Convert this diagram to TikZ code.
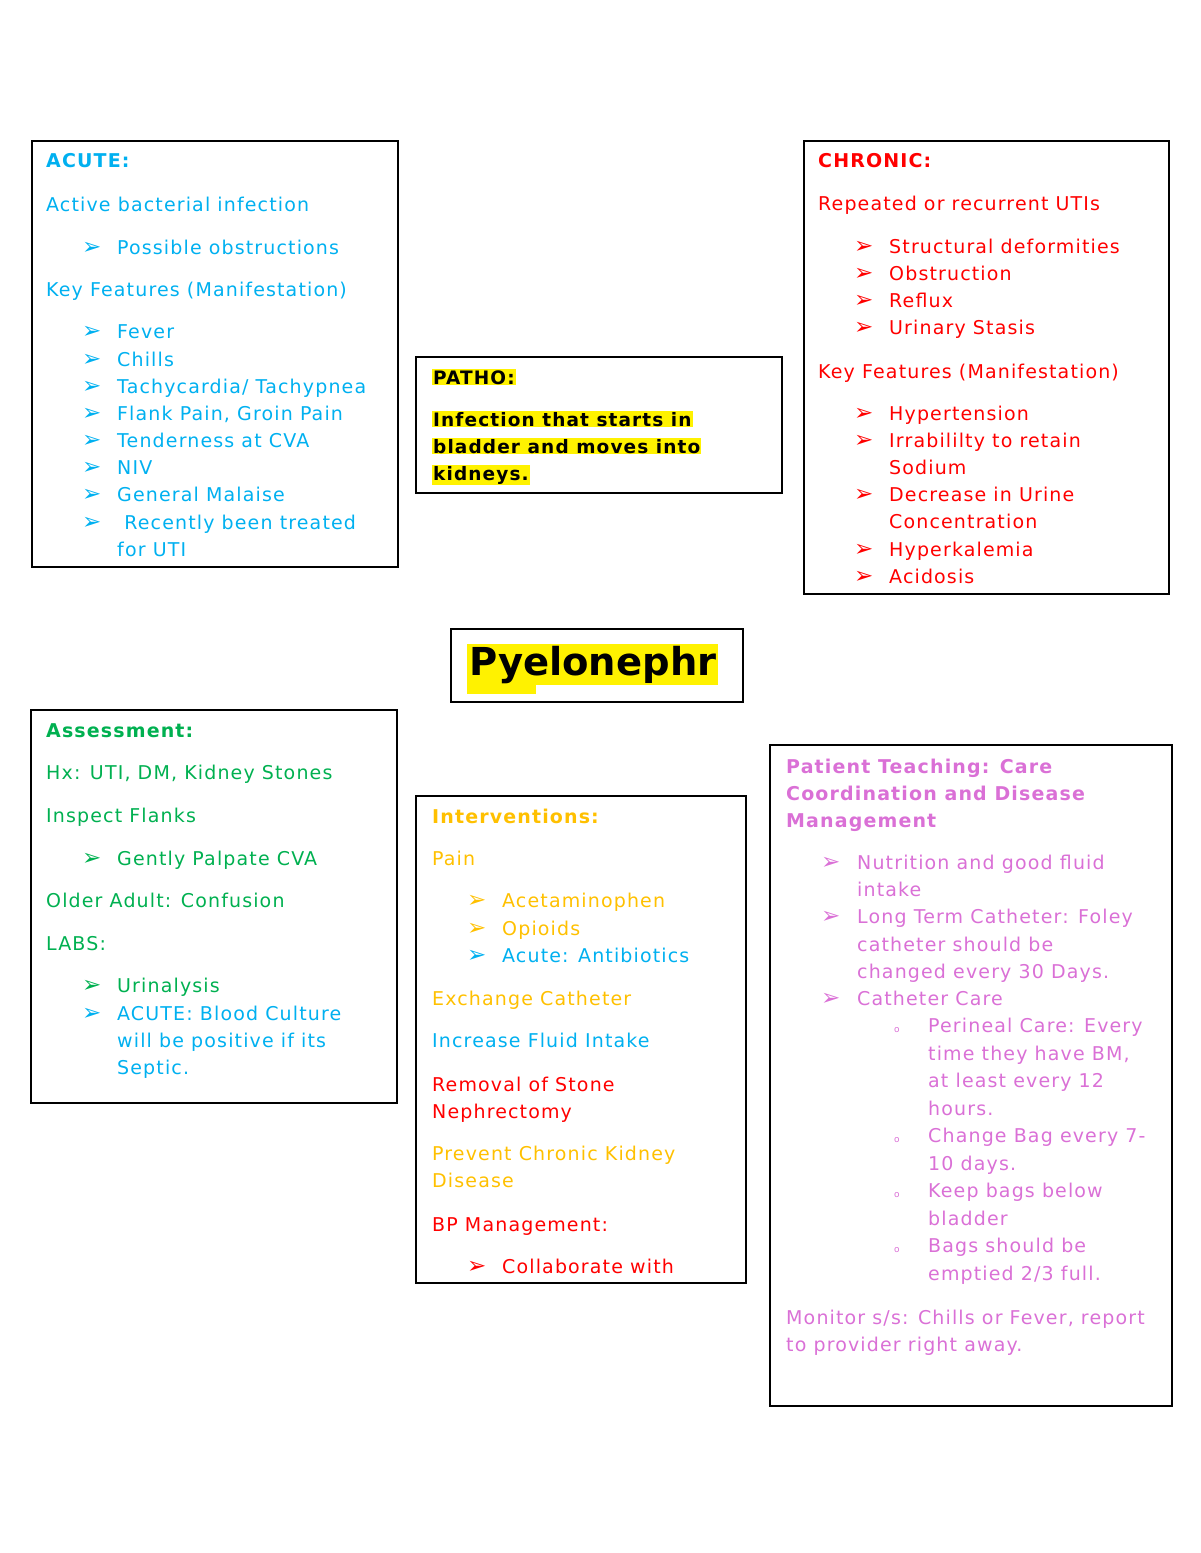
\documentclass[tikz,border=0pt]{standalone}
\usepackage{fontspec}
\setmainfont{DejaVu Sans}[LetterSpace=6]
\newfontfamily\titlefont{DejaVu Sans}
\definecolor{cy}{RGB}{0,176,240}
\definecolor{rd}{RGB}{255,0,0}
\definecolor{gr}{RGB}{0,176,80}
\definecolor{gd}{RGB}{255,192,0}
\definecolor{pk}{RGB}{218,112,214}
\newcommand\tl[5]{\node[tx,text=#2] (#1) at (#3,#4) {#5};}
\newcommand\bl[4]{\node[tx,text=#2,font=\titlefont\fontsize{23}{23}\selectfont] (#1) at (#3,#4) {➢};}
\begin{document}
\begin{tikzpicture}[x=1pt,y=-1pt,
  tx/.style={anchor=base west,inner sep=0pt,font=\fontsize{19}{20}\selectfont},
  bx/.style={draw=black,line width=2.5pt},
  hl/.style={fill=yellow,inner sep=1pt}]
\useasboundingbox (0,0) rectangle (1200,1553);
% boxes
\draw[bx] (32,141) rectangle (398,567);
\draw[bx] (416,357) rectangle (782,493);
\draw[bx] (804,141) rectangle (1169,594);
\draw[bx] (451,629) rectangle (743,702);
\draw[bx] (31,710) rectangle (397,1103);
\draw[bx] (416,796) rectangle (746,1283);
\draw[bx] (770,745) rectangle (1172,1406);
% ACUTE
\tl{a0}{cy}{46}{167}{\bfseries ACUTE:}
\tl{a1}{cy}{46}{211}{Active bacterial infection}
\bl{ab1}{cy}{82}{254}\tl{a2}{cy}{117}{254}{Possible obstructions}
\tl{a3}{cy}{46}{296}{Key Features (Manifestation)}
\bl{ab2}{cy}{82}{338}\tl{a4}{cy}{117}{338}{Fever}
\bl{ab3}{cy}{82}{366}\tl{a5}{cy}{117}{366}{Chills}
\bl{ab4}{cy}{82}{393}\tl{a6}{cy}{117}{393}{Tachycardia/ Tachypnea}
\bl{ab5}{cy}{82}{420}\tl{a7}{cy}{117}{420}{Flank Pain, Groin Pain}
\bl{ab6}{cy}{82}{447}\tl{a8}{cy}{117}{447}{Tenderness at CVA}
\bl{ab7}{cy}{82}{474}\tl{a9}{cy}{117}{474}{NIV}
\bl{ab8}{cy}{82}{501}\tl{a10}{cy}{117}{501}{General Malaise}
\bl{ab9}{cy}{82}{529}\tl{a11}{cy}{117}{529}{\ Recently been treated}
\tl{a12}{cy}{117}{556}{for UTI}
% PATHO
\node[tx,hl,font=\fontsize{18.5}{20}\selectfont\bfseries] (p0) at (432,384) {PATHO:};
\node[tx,hl,font=\fontsize{18.5}{20}\selectfont\bfseries] (p1) at (432,426) {Infection that starts in};
\node[tx,hl,font=\fontsize{18.5}{20}\selectfont\bfseries] (p2) at (432,453) {bladder and moves into};
\node[tx,hl,font=\fontsize{18.5}{20}\selectfont\bfseries] (p3) at (432,480) {kidneys.};
% title
\fill[yellow] (467,685) rectangle (536,694);
\node[anchor=base west,fill=yellow,inner sep=2pt,font=\titlefont\fontsize{38.5}{40}\selectfont\bfseries] (ti) at (467,675) {Pyelonephr};
% CHRONIC
\tl{c0}{rd}{818}{167}{\bfseries CHRONIC:}
\tl{c1}{rd}{818}{210}{Repeated or recurrent UTIs}
\bl{cb1}{rd}{854}{253}\tl{c2}{rd}{889}{253}{Structural deformities}
\bl{cb2}{rd}{854}{280}\tl{c3}{rd}{889}{280}{Obstruction}
\bl{cb3}{rd}{854}{307}\tl{c4}{rd}{889}{307}{Reflux}
\bl{cb4}{rd}{854}{334}\tl{c5}{rd}{889}{334}{Urinary Stasis}
\tl{c6}{rd}{818}{378}{Key Features (Manifestation)}
\bl{cb5}{rd}{854}{420}\tl{c7}{rd}{889}{420}{Hypertension}
\bl{cb6}{rd}{854}{447}\tl{c8}{rd}{889}{447}{Irrabililty to retain}
\tl{c9}{rd}{889}{474}{Sodium}
\bl{cb7}{rd}{854}{501}\tl{c10}{rd}{889}{501}{Decrease in Urine}
\tl{c11}{rd}{889}{528}{Concentration}
\bl{cb8}{rd}{854}{556}\tl{c12}{rd}{889}{556}{Hyperkalemia}
\bl{cb9}{rd}{854}{583}\tl{c13}{rd}{889}{583}{Acidosis}
% Assessment
\tl{s0}{gr}{46}{737}{\bfseries Assessment:}
\tl{s1}{gr}{46}{779}{Hx: UTI, DM, Kidney Stones}
\tl{s2}{gr}{46}{822}{Inspect Flanks}
\bl{sb1}{gr}{82}{865}\tl{s3}{gr}{117}{865}{Gently Palpate CVA}
\tl{s4}{gr}{46}{907}{Older Adult: Confusion}
\tl{s5}{gr}{46}{950}{LABS:}
\bl{sb2}{gr}{82}{992}\tl{s6}{gr}{117}{992}{Urinalysis}
\bl{sb3}{cy}{82}{1020}\tl{s7}{cy}{117}{1020}{ACUTE: Blood Culture}
\tl{s8}{cy}{117}{1047}{will be positive if its}
\tl{s9}{cy}{117}{1074}{Septic.}
% Interventions
\tl{i0}{gd}{432}{823}{\bfseries Interventions:}
\tl{i1}{gd}{432}{865}{Pain}
\bl{ib1}{gd}{467}{907}\tl{i2}{gd}{502}{907}{Acetaminophen}
\bl{ib2}{gd}{467}{935}\tl{i3}{gd}{502}{935}{Opioids}
\bl{ib3}{cy}{467}{962}\tl{i4}{cy}{502}{962}{Acute: Antibiotics}
\tl{i5}{gd}{432}{1005}{Exchange Catheter}
\tl{i6}{cy}{432}{1047}{Increase Fluid Intake}
\tl{i7}{rd}{432}{1091}{Removal of Stone}
\tl{i8}{rd}{432}{1118}{Nephrectomy}
\tl{i9}{gd}{432}{1160}{Prevent Chronic Kidney}
\tl{i10}{gd}{432}{1187}{Disease}
\tl{i11}{rd}{432}{1231}{BP Management:}
\bl{ib4}{rd}{467}{1273}\tl{i12}{rd}{502}{1273}{Collaborate with}
% Patient teaching
\tl{t0}{pk}{786}{773}{\bfseries Patient Teaching: Care}
\tl{t1}{pk}{786}{800}{\bfseries Coordination and Disease}
\tl{t2}{pk}{786}{827}{\bfseries Management}
\bl{tb1}{pk}{821}{869}\tl{t3}{pk}{857}{869}{Nutrition and good fluid}
\tl{t4}{pk}{857}{896}{intake}
\bl{tb2}{pk}{821}{923}\tl{t5}{pk}{857}{923}{Long Term Catheter: Foley}
\tl{t6}{pk}{857}{951}{catheter should be}
\tl{t7}{pk}{857}{978}{changed every 30 Days.}
\bl{tb3}{pk}{821}{1005}\tl{t8}{pk}{857}{1005}{Catheter Care}
\tl{to1}{pk}{894}{1032}{\small o}\tl{t9}{pk}{928}{1032}{Perineal Care: Every}
\tl{t10}{pk}{928}{1060}{time they have BM,}
\tl{t11}{pk}{928}{1087}{at least every 12}
\tl{t12}{pk}{928}{1115}{hours.}
\tl{to2}{pk}{894}{1142}{\small o}\tl{t13}{pk}{928}{1142}{Change Bag every 7-}
\tl{t14}{pk}{928}{1170}{10 days.}
\tl{to3}{pk}{894}{1197}{\small o}\tl{t15}{pk}{928}{1197}{Keep bags below}
\tl{t16}{pk}{928}{1225}{bladder}
\tl{to4}{pk}{894}{1252}{\small o}\tl{t17}{pk}{928}{1252}{Bags should be}
\tl{t18}{pk}{928}{1280}{emptied 2/3 full.}
\tl{t19}{pk}{786}{1324}{Monitor s/s: Chills or Fever, report}
\tl{t20}{pk}{786}{1351}{to provider right away.}
\end{tikzpicture}
\end{document}
